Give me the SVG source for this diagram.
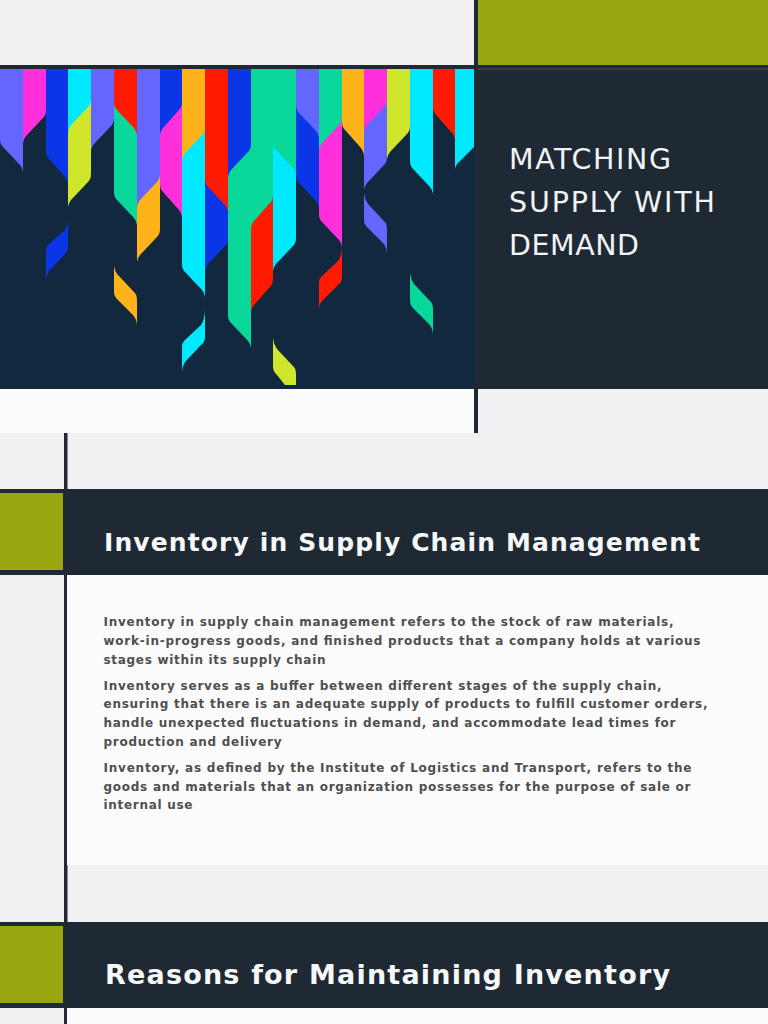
<svg xmlns="http://www.w3.org/2000/svg" width="768" height="1024" viewBox="0 0 768 1024">
<style>
.bg{fill:#f1f1f3}.dk{fill:#1e2933}.ol{fill:#98a612}.wh{fill:#fbfbfb}
.p{fill:#6366ff}.m{fill:#ff2fdc}.b{fill:#0a36e8}.c{fill:#00e9ff}.l{fill:#cfe62a}.r{fill:#ff1a00}.g{fill:#0ad79a}.o{fill:#ffb31a}
text{font-family:"DejaVu Sans",sans-serif}
.t{font-size:28.500px;fill:#f1f3f4}
.h{font-size:25px;font-weight:700;fill:#f7f8f9}
.h2{font-size:27px;font-weight:700;fill:#f7f8f9}
.x{font-size:12px;font-weight:700;fill:#4f4f4f}
</style>
<rect class="bg" width="768" height="1024"/>
<g id="slide1">
<rect class="wh" x="0" y="389" width="474" height="44"/>
<rect class="ol" x="478" y="0" width="290" height="65"/>
<rect class="dk" x="0" y="65" width="768" height="4"/>
<rect class="dk" x="474" y="0" width="4" height="433"/>
<rect class="dk" x="474" y="69" width="294" height="320"/>
<rect x="478" y="68.500" width="290" height="1" fill="#4a545c"/>
<rect x="0" y="69" width="474" height="320" fill="#11283f"/>
<path class="p" d="M0 69H23V172Q22.500 168 20 165L4 148Q0 145 0 139Z"/>
<path class="m" d="M23 69H46V110Q46 116 42 119L26 136Q23.500 139 23 143Z"/>
<path class="b" d="M46 69H68V184Q67.500 180 65 177L50 160Q46 157 46 151Z"/>
<path class="l" d="M68 69H91V174Q91 180 87 183L71 200Q68.500 203 68 207Z"/>
<path class="c" d="M68 69H91V99Q91 105 87 108L71 125Q68.500 128 68 132Z"/>
<path class="p" d="M91 69H114V118Q114 124 110 127L94 144Q91.500 147 91 151Z"/>
<path class="g" d="M114 69H137V225Q136.500 221 134 218L118 201Q114 198 114 192Z"/>
<path class="r" d="M114 69H137V135Q136.500 131 134 128L118 111Q114 108 114 102Z"/>
<path class="o" d="M137 69H160V229Q160 235 156 238L140 255Q137.500 258 137 262Z"/>
<path class="p" d="M137 69H160V174Q160 180 156 183L140 200Q137.500 203 137 207Z"/>
<path class="m" d="M160 69H182V217Q181.500 213 179 210L164 193Q160 190 160 184Z"/>
<path class="b" d="M160 69H182V102Q182 108 178 111L163 128Q160.500 131 160 135Z"/>
<path class="c" d="M182 69H205V297Q204.500 293 202 290L186 273Q182 270 182 264Z"/>
<path class="o" d="M182 69H205V127Q205 133 201 136L185 153Q182.500 156 182 160Z"/>
<path class="b" d="M205 69H228V238Q228 244 224 247L208 264Q205.500 267 205 271Z"/>
<path class="r" d="M205 69H228V212Q227.500 208 225 205L209 188Q205 185 205 179Z"/>
<path class="g" d="M228 69H251V348Q250.500 344 248 341L232 324Q228 321 228 315Z"/>
<path class="b" d="M228 69H251V144Q251 150 247 153L231 170Q228.500 173 228 177Z"/>
<path class="r" d="M251 69H273V279Q273 285 269 288L254 305Q251.500 308 251 312Z"/>
<path class="g" d="M251 69H273V195Q273 201 269 204L254 221Q251.500 224 251 228Z"/>
<path class="c" d="M273 69H296V238Q296 244 292 247L276 264Q273.500 267 273 271Z"/>
<path class="g" d="M273 69H296V175Q295.500 171 293 168L277 151Q273 148 273 142Z"/>
<path class="b" d="M296 69H319V208Q318.500 204 316 201L300 184Q296 181 296 175Z"/>
<path class="p" d="M296 69H319V138Q318.500 134 316 131L300 114Q296 111 296 105Z"/>
<path class="m" d="M319 69H342V247Q341.500 243 339 240L323 223Q319 220 319 214Z"/>
<path class="g" d="M319 69H342V117Q342 123 338 126L322 143Q319.500 146 319 150Z"/>
<path class="o" d="M342 69H364V155Q363.500 151 361 148L346 131Q342 128 342 122Z"/>
<path class="p" d="M364 69H387V157Q387 163 383 166L367 183Q364.500 186 364 190Z"/>
<path class="m" d="M364 69H387V99Q387 105 383 108L367 125Q364.500 128 364 132Z"/>
<path class="l" d="M387 69H410V126Q410 132 406 135L390 152Q387.500 155 387 159Z"/>
<path class="c" d="M410 69H433V194Q432.500 190 430 187L414 170Q410 167 410 161Z"/>
<path class="r" d="M433 69H455V140Q454.500 136 452 133L437 116Q433 113 433 107Z"/>
<path class="c" d="M455 69H474V147L460 161Q455.500 165 455 169Z"/>
<path class="b" d="M68 220V247Q68 252 64 255L49 271Q46.500 275 46 280V251Q46 246 50 243L64 231Q67.500 227 68 220Z"/>
<path class="o" d="M114 265Q114.500 271 118 275L133 291Q137 294 137 300V325Q136.500 319 133 315L118 300Q114 297 114 291Z"/>
<path class="c" d="M205 310V337Q205 342 201 345L185 362Q182.500 366 182 372V347Q182 342 186 339L201 325Q204.500 320 205 310Z"/>
<path class="p" d="M364 193Q364.500 199 368 204L383 220Q387 223 387 229V253Q386.500 247 383 243L368 228Q364 225 364 219Z"/>
<path class="r" d="M342 248V277Q342 282 338 285L322 301Q319.500 304 319 308V283Q319 278 323 275L338 261Q341.500 256 342 248Z"/>
<path class="g" d="M410 273Q410.500 279 414 284L429 300Q433 303 433 309V334Q432.500 328 429 324L414 309Q410 306 410 300Z"/>
<path class="l" d="M273 338Q273.500 344 277 349L292 365Q296 368 296 374V385H285L277 375Q273 372 273 366Z"/>
<text class="t" x="509" y="169" textLength="162" lengthAdjust="spacing">MATCHING</text>
<text class="t" x="509" y="212" textLength="206" lengthAdjust="spacing">SUPPLY WITH</text>
<text class="t" x="509" y="254.500" textLength="130" lengthAdjust="spacing">DEMAND</text>
</g>
<g id="slide2">
<rect class="dk" x="64" y="433" width="3.500" height="591"/>
<rect class="dk" x="0" y="489" width="768" height="86"/>
<rect class="ol" x="0" y="493" width="63" height="77"/>
<rect class="wh" x="67" y="575" width="701" height="290"/>
<text class="h" x="104" y="550.500" textLength="596" lengthAdjust="spacing">Inventory in Supply Chain Management</text>
<text class="x" x="103.500" y="626" textLength="570" lengthAdjust="spacing">Inventory in supply chain management refers to the stock of raw materials,</text>
<text class="x" x="103.500" y="645" textLength="597" lengthAdjust="spacing">work-in-progress goods, and finished products that a company holds at various</text>
<text class="x" x="103.500" y="664" textLength="222" lengthAdjust="spacing">stages within its supply chain</text>
<text class="x" x="103.500" y="690" textLength="558" lengthAdjust="spacing">Inventory serves as a buffer between different stages of the supply chain,</text>
<text class="x" x="103.500" y="708" textLength="604" lengthAdjust="spacing">ensuring that there is an adequate supply of products to fulfill customer orders,</text>
<text class="x" x="103.500" y="727" textLength="572" lengthAdjust="spacing">handle unexpected fluctuations in demand, and accommodate lead times for</text>
<text class="x" x="103.500" y="746" textLength="178" lengthAdjust="spacing">production and delivery</text>
<text class="x" x="103.500" y="772" textLength="588" lengthAdjust="spacing">Inventory, as defined by the Institute of Logistics and Transport, refers to the</text>
<text class="x" x="103.500" y="791" textLength="587" lengthAdjust="spacing">goods and materials that an organization possesses for the purpose of sale or</text>
<text class="x" x="103.500" y="809" textLength="89" lengthAdjust="spacing">internal use</text>
</g>
<g id="slide3">
<rect class="dk" x="0" y="922" width="768" height="86"/>
<rect class="ol" x="0" y="926" width="63" height="77"/>
<rect class="wh" x="67" y="1008" width="701" height="16"/>
<text class="h2" x="105" y="984" textLength="565" lengthAdjust="spacing">Reasons for Maintaining Inventory</text>
</g>
</svg>
